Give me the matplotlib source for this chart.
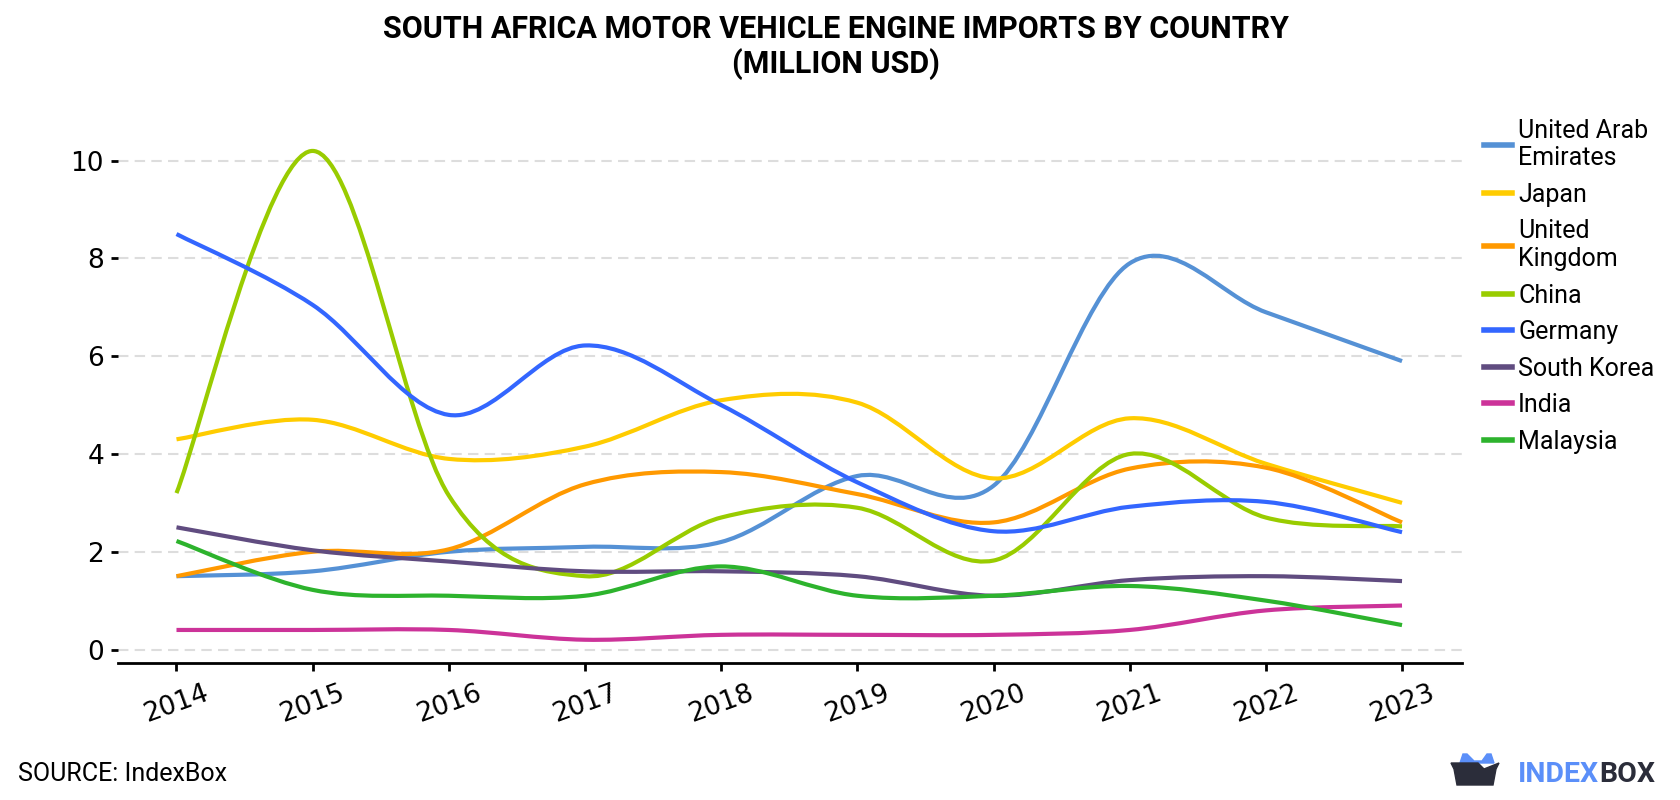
import numpy as np
import matplotlib
matplotlib.use("Agg")
import matplotlib.pyplot as plt
from matplotlib.path import Path
from matplotlib.patches import PathPatch, Polygon
from matplotlib.lines import Line2D

# ---------------- data (million USD) ----------------
years = [2014, 2015, 2016, 2017, 2018, 2019, 2020, 2021, 2022, 2023]

uae = [1.5, 1.6, 2.0, 2.1, 2.2, 3.55, 3.35, 7.9, 6.9, 5.9]
japan = [4.3, 4.7, 3.9, 4.15, 5.1, 5.05, 3.5, 4.73, 3.8, 3.0]
uk = [1.5, 2.0, 2.05, 3.38, 3.63, 3.18, 2.6, 3.7, 3.72, 2.6]
china = [3.2, 10.2, 3.15, 1.5, 2.7, 2.9, 1.82, 4.0, 2.7, 2.52]
germany = [8.5, 7.05, 4.8, 6.22, 5.0, 3.42, 2.42, 2.92, 3.02, 2.4]
south_korea = [2.5, 2.03, 1.8, 1.6, 1.6, 1.5, 1.1, 1.42, 1.5, 1.4]
india = [0.4, 0.4, 0.4, 0.2, 0.3, 0.3, 0.3, 0.4, 0.8, 0.9]
malaysia = [2.22, 1.22, 1.1, 1.1, 1.7, 1.1, 1.1, 1.3, 1.0, 0.5]

labels = ["United Arab\nEmirates", "Japan", "United\nKingdom", "China",
          "Germany", "South Korea", "India", "Malaysia"]
series = [uae, japan, uk, china, germany, south_korea, india, malaysia]
colors = ["#5591d5", "#ffcc00", "#ff9900", "#99cc00",
          "#3366ff", "#604c80", "#cc3399", "#2db32d"]

title_1 = "SOUTH AFRICA MOTOR VEHICLE ENGINE IMPORTS BY COUNTRY"
title_2 = "(MILLION USD)"
source = "SOURCE: IndexBox"


def smooth_path(xs, ys):
    # Catmull-Rom through the points, expressed as cubic Bezier segments
    pts = np.column_stack([xs, ys]).astype(float)
    ext = np.vstack([pts[0], pts, pts[-1]])
    verts = [pts[0]]
    codes = [Path.MOVETO]
    for i in range(len(pts) - 1):
        p0, p1, p2, p3 = ext[i], ext[i + 1], ext[i + 2], ext[i + 3]
        verts += [p1 + (p2 - p0) / 6, p2 - (p3 - p1) / 6, p2]
        codes += [Path.CURVE4] * 3
    return Path(verts, codes)


fig = plt.figure(figsize=(16.8, 8), dpi=100)
ax = fig.add_axes([0.0702, 0.171, 0.8, 0.677])

for ys, col in zip(series, colors):
    ax.add_patch(PathPatch(smooth_path(years, ys), facecolor="none",
                           edgecolor=col, lw=3, capstyle="butt", zorder=3))

ax.set_xlim(2013.57, 2023.44)
ax.set_ylim(-0.28, 10.8)
ax.set_xticks(years)
ax.set_yticks([0, 2, 4, 6, 8, 10])
ax.tick_params(axis="x", labelsize=19, length=6, width=2, pad=6,
               labelrotation=20)
ax.tick_params(axis="y", labelsize=19, length=5, width=2, pad=5)
ax.yaxis.grid(True, color="#dddddd", lw=1.5, linestyle=(0, (5, 3)))
ax.set_axisbelow(True)
for s in ["top", "right", "left"]:
    ax.spines[s].set_visible(False)
ax.spines["bottom"].set_linewidth(2)

handles = [Line2D([], [], color=c, lw=4) for c in colors]
leg = fig.legend(handles, labels, loc="upper left",
                 bbox_to_anchor=(1484 / 1680, 1 - 118.5 / 800),
                 frameon=False, borderpad=0, borderaxespad=0,
                 prop={"family": "Roboto", "size": 18},
                 handlelength=1.12, handletextpad=0.25, labelspacing=0.5)
for t in leg.get_texts():
    t.set_linespacing(1.2)

fig.text(0.4975, 1 - 29 / 800, title_1, ha="center", va="center",
         family="Roboto", fontweight="bold", fontsize=22)
fig.text(0.4975, 1 - 64 / 800, title_2, ha="center", va="center",
         family="Roboto", fontweight="bold", fontsize=22)
fig.text(18 / 1680, 1 - 774 / 800, source, ha="left", va="center",
         family="Roboto", fontsize=18)

# IndexBox logo
def px(x, y):
    return (x / 1680, 1 - y / 800)

ear = Polygon([px(1460, 763), px(1463, 754), px(1467, 754), px(1474, 761),
               px(1482, 761), px(1487, 754), px(1491, 754), px(1494, 763)],
              closed=True, transform=fig.transFigure, color="#5b8ff9",
              zorder=5)
box = Polygon([px(1451, 763), px(1478, 763), px(1484, 769), px(1499, 763),
               px(1496, 769), px(1493, 785), px(1457, 785), px(1454, 769)],
              closed=True, transform=fig.transFigure, color="#2b2d3a",
              zorder=6)
fig.add_artist(ear)
fig.add_artist(box)

t1 = fig.text(1518 / 1680, 1 - 775 / 800, "INDEX", ha="left", va="center",
              family="Roboto", fontweight="bold", fontsize=20.5,
              color="#5b8ff9")
fig.canvas.draw()
bb = t1.get_window_extent()
fig.text(bb.x1 / 1680, 1 - 775 / 800, "BOX", ha="left", va="center",
         family="Roboto", fontweight="bold", fontsize=20.5, color="#2b2d3a")

fig.savefig("out.png", dpi=100)
